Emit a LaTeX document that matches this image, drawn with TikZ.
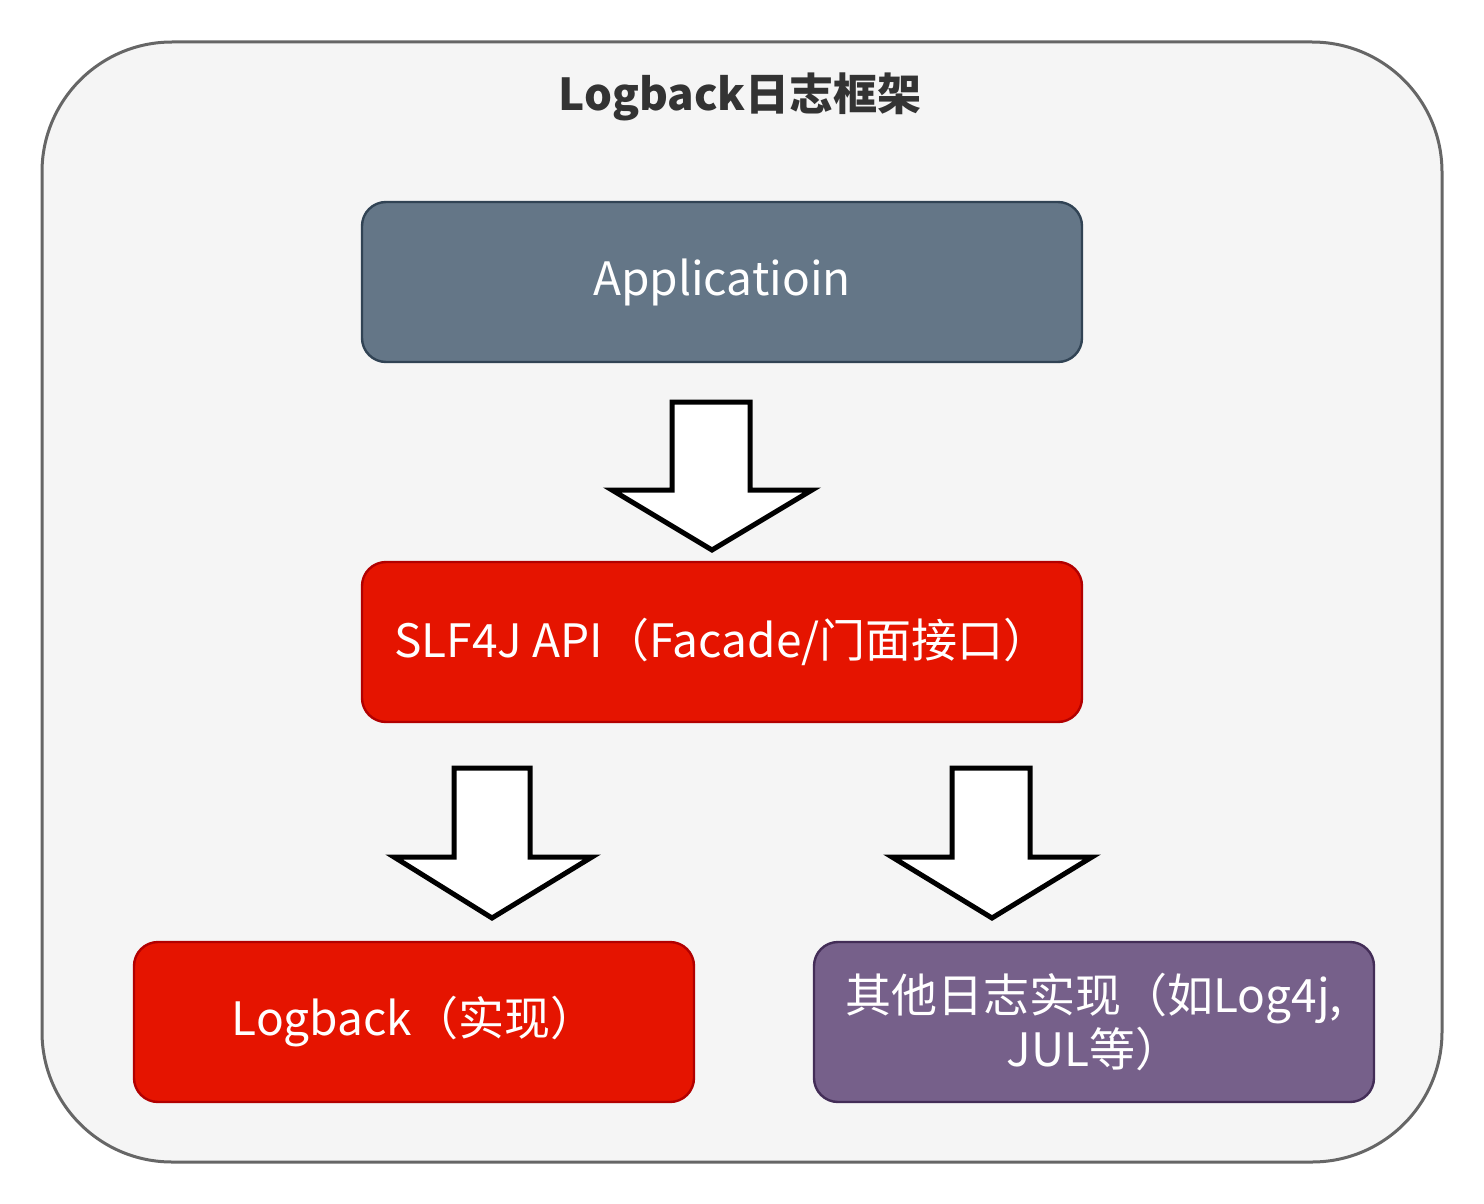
\documentclass[tikz,border=0pt]{standalone}
\usepackage{fontspec}
\setmainfont{Liberation Sans}
\newfontfamily\cjk{Noto Sans CJK SC}
\usetikzlibrary{positioning}
\definecolor{outerfill}{HTML}{F5F5F5}
\definecolor{outerline}{HTML}{666666}
\definecolor{appfill}{HTML}{647687}
\definecolor{appline}{HTML}{314354}
\definecolor{redfill}{HTML}{E51400}
\definecolor{redline}{HTML}{B20000}
\definecolor{purpfill}{HTML}{76608A}
\definecolor{purpline}{HTML}{432D57}
\begin{document}
\begin{tikzpicture}[x=0.5pt, y=-0.5pt]
    \tikzset{
        % Define style for boxes
        kasten/.style={
                rectangle,
                rounded corners=12pt,
                line width=1.2pt,
                minimum width=360pt,
                minimum height=80pt,
                text=white,
                align=center,
                font=\fontsize{23}{27}\selectfont\cjk},
        % Define style for block arrows
        pfeil/.style={
                draw=black,
                fill=white,
                line width=2.5pt,
                line join=miter},
    }
    \useasboundingbox (0,0) rectangle (1484,1204);
    % Outer frame
    \draw[fill=outerfill, draw=outerline, line width=1.5pt, rounded corners=65pt]
        (42,42) rectangle (1442,1162);
    \node[font=\fontsize{22}{26}\selectfont\bfseries\cjk, text=black!80] (title) at (740,97) {Logback日志框架};

    % Draw the boxes
    \node[kasten, fill=appfill, draw=appline] (app) at (722,282) {Applicatioin};
    \node[kasten, fill=redfill, draw=redline] (api) at (722,642) {SLF4J API（Facade/门面接口）};
    \node[kasten, fill=redfill, draw=redline, minimum width=280pt] (impl) at (414,1022) {Logback（实现）};
    \node[kasten, fill=purpfill, draw=purpline, minimum width=280pt] (other) at (1094,1022) {其他日志实现（如Log4j,\\JUL等）};

    % Draw the block arrows
    \draw[pfeil] (672,402) -- (750,402) -- (750,490) -- (812,490) -- (712,550)
        -- (612,490) -- (672,490) -- cycle;
    \draw[pfeil] (454,768) -- (530,768) -- (530,857) -- (592,857) -- (492,918)
        -- (394,857) -- (454,857) -- cycle;
    \draw[pfeil] (952,768) -- (1030,768) -- (1030,857) -- (1092,857) -- (992,918)
        -- (892,857) -- (952,857) -- cycle;
\end{tikzpicture}
\end{document}
